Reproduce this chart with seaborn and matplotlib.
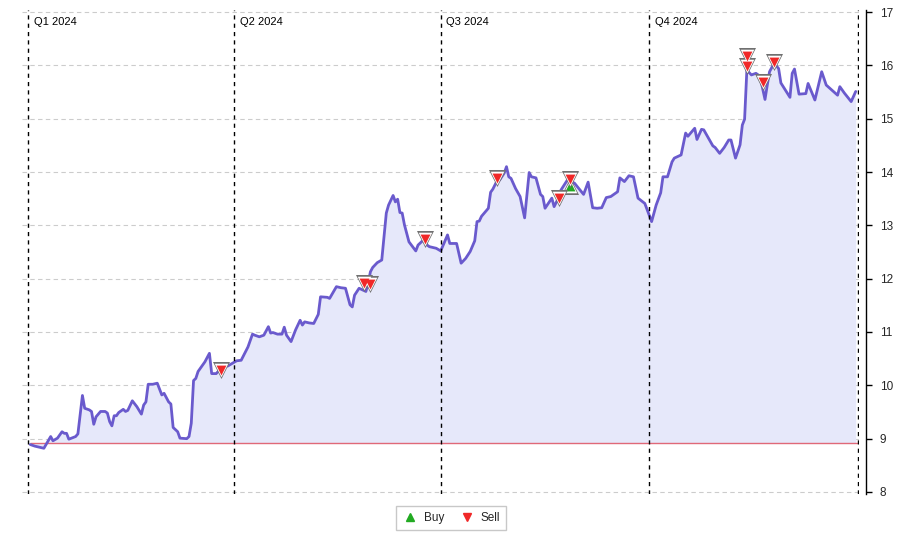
import numpy as np
import pandas as pd
import matplotlib
matplotlib.use("Agg")
import matplotlib.pyplot as plt
import seaborn as sns
from matplotlib.lines import Line2D

# ---------------- data ----------------
# days since 2024-01-01 and closing price
days = [1, 3, 7, 10, 11, 13, 15, 16, 17, 18, 21, 22, 24, 25, 27, 28, 29, 30, 32, 34,
        35, 36, 37, 38, 39, 40, 42, 43, 44, 46, 48, 50, 51, 52, 53, 55, 57, 59, 60, 62,
        63, 64, 66, 67, 70, 71, 72, 73, 74, 75, 77, 78, 80, 81, 83, 86, 88,
        90, 92, 94, 97, 99, 100, 102, 104, 106, 107, 108, 110, 112, 113, 114, 116, 118,
        120, 121, 122, 124, 126, 128, 129, 132, 133, 136, 138, 140, 142, 143, 144, 146,
        149, 150, 151, 152, 154, 156, 158, 159, 161, 162, 163, 164, 165, 166, 168, 171,
        172, 174, 175, 176, 177, 178, 180, 182,
        185, 186, 189, 191, 193, 195, 197, 198, 199, 200, 203, 204, 205, 207, 208, 210,
        211, 212, 213, 215, 217, 219, 221, 222, 224, 226, 227, 228, 231, 232, 234, 235,
        238, 241, 245, 247, 249, 251, 253, 255, 257, 260, 261, 263, 265, 267, 269, 272,
        275, 277, 279, 280, 282, 284, 285, 288, 290, 291, 294, 295, 297, 298, 302, 303,
        305, 307, 309, 310, 312, 314, 315, 316, 317, 319, 321, 322, 323, 325, 326, 327,
        329, 331, 332, 336, 337, 338, 340, 343, 344, 347, 350, 352, 357, 358, 360, 363, 365]
prices = [8.89, 8.86, 8.82, 9.04, 8.96, 9.01, 9.13, 9.10, 9.10, 8.99, 9.04, 9.09, 9.81, 9.57, 9.54, 9.51, 9.27, 9.41, 9.51, 9.51,
          9.48, 9.32, 9.24, 9.43, 9.43, 9.49, 9.55, 9.51, 9.53, 9.71, 9.60, 9.46, 9.63, 9.69, 10.02, 10.02, 10.04, 9.82, 9.85, 9.69,
          9.65, 9.21, 9.13, 9.01, 9.00, 9.04, 9.29, 10.09, 10.13, 10.26, 10.38, 10.44, 10.60, 10.22, 10.22, 10.36, 10.36,
          10.41, 10.46, 10.47, 10.72, 10.96, 10.94, 10.91, 10.94, 11.10, 10.98, 10.99, 10.96, 10.96, 11.09, 10.94, 10.82, 11.04,
          11.22, 11.13, 11.19, 11.17, 11.16, 11.33, 11.66, 11.65, 11.63, 11.85, 11.83, 11.82, 11.51, 11.47, 11.69, 11.82,
          11.76, 11.92, 12.13, 12.21, 12.30, 12.35, 13.23, 13.38, 13.56, 13.44, 13.49, 13.24, 13.23, 13.01, 12.69, 12.52,
          12.63, 12.71, 12.74, 12.63, 12.60, 12.59, 12.57, 12.52,
          12.82, 12.66, 12.66, 12.29, 12.38, 12.51, 12.71, 13.07, 13.08, 13.17, 13.32, 13.62, 13.68, 13.85, 13.85, 13.98,
          14.10, 13.91, 13.88, 13.69, 13.54, 13.14, 13.99, 13.91, 13.89, 13.58, 13.54, 13.32, 13.51, 13.35, 13.52, 13.66,
          13.86, 13.79, 13.58, 13.81, 13.33, 13.32, 13.33, 13.52, 13.54, 13.63, 13.89, 13.82, 13.93, 13.91, 13.51, 13.41,
          13.07, 13.38, 13.61, 13.91, 13.91, 14.19, 14.26, 14.32, 14.73, 14.67, 14.82, 14.61, 14.80, 14.79, 14.49, 14.46,
          14.35, 14.46, 14.60, 14.60, 14.26, 14.51, 14.88, 14.99, 15.91, 15.82, 15.85, 15.82, 15.75, 15.36, 15.63, 15.88,
          16.04, 15.94, 15.67, 15.40, 15.85, 15.93, 15.46, 15.47, 15.66, 15.35, 15.88, 15.63, 15.44, 15.60, 15.48, 15.32, 15.51]

sell_days = [85, 148, 151, 175, 207, 234, 239, 317, 317, 324, 329]
sell_prices = [10.28, 11.91, 11.90, 12.74, 13.88, 13.52, 13.86, 16.17, 15.99, 15.69, 16.07]
buy_days = [239]
buy_prices = [13.74]

baseline = 8.92
quarter_labels = ["Q1 2024", "Q2 2024", "Q3 2024", "Q4 2024"]
quarter_starts = ["2024-01-01", "2024-04-01", "2024-07-01", "2024-10-01"]
period_end = "2025-01-01"
y_ticks = [8, 9, 10, 11, 12, 13, 14, 15, 16, 17]

# ---------------- build frames ----------------
t0 = pd.Timestamp("2024-01-01")
df = pd.DataFrame({"date": t0 + pd.to_timedelta(days, unit="D"), "price": prices})
sells = pd.DataFrame({"date": t0 + pd.to_timedelta(sell_days, unit="D"), "price": sell_prices})
buys = pd.DataFrame({"date": t0 + pd.to_timedelta(buy_days, unit="D"), "price": buy_prices})

sns.set_theme(style="white")
plt.rcParams["font.family"] = ["Liberation Sans", "DejaVu Sans"]

W, H = 902, 536
fig = plt.figure(figsize=(W / 100, H / 100), dpi=100)
ax = fig.add_axes([22 / W, 1 - 494 / H, (859 - 22) / W, (494 - 10) / H])

# fill and line
ax.fill_between(df["date"], df["price"], baseline, color="#e6e8fa", linewidth=0, zorder=1)
sns.lineplot(data=df, x="date", y="price", ax=ax, color="#6a5acd", linewidth=2, zorder=3)
ax.hlines(baseline, df["date"].iloc[0], pd.Timestamp(period_end), color="#e06878", linewidth=1, zorder=2)

# quarter separators
for lab, qs in zip(quarter_labels, quarter_starts):
    d = pd.Timestamp(qs)
    ax.axvline(d, color="black", linewidth=1, linestyle=(0, (3, 3)), zorder=4)
    ax.annotate(lab, xy=(d, 1), xycoords=("data", "axes fraction"), xytext=(4, -5),
                textcoords="offset points", ha="left", va="top", fontsize=8, color="black")
ax.axvline(pd.Timestamp(period_end), color="black", linewidth=1, linestyle=(0, (3, 3)), zorder=4)

# markers: buys then sells (with gray/white outline)
sns.scatterplot(data=buys, x="date", y="price", ax=ax, marker="^", s=150, color="#707070",
                linewidth=0, zorder=5, legend=False)
sns.scatterplot(data=buys, x="date", y="price", ax=ax, marker="^", s=95, color="white",
                linewidth=0, zorder=5, legend=False)
sns.scatterplot(data=buys, x="date", y="price", ax=ax, marker="^", s=50, color="#22aa22",
                linewidth=0, zorder=5, legend=False)
sns.scatterplot(data=sells, x="date", y="price", ax=ax, marker="v", s=150, color="#707070",
                linewidth=0, zorder=6, legend=False)
sns.scatterplot(data=sells, x="date", y="price", ax=ax, marker="v", s=95, color="white",
                linewidth=0, zorder=6, legend=False)
sns.scatterplot(data=sells, x="date", y="price", ax=ax, marker="v", s=50, color="#f02828",
                linewidth=0, zorder=6, legend=False)

# axes styling
x_left = t0 - pd.Timedelta(days=2.65)
x_right = pd.Timestamp(period_end) + pd.Timedelta(days=0.45)
ax.set_xlim(x_left, x_right)
ax.set_ylim(8 - 2 / 53.33, 17 + 2 / 53.33)
ax.set_yticks(y_ticks)
ax.yaxis.tick_right()
ax.tick_params(axis="y", which="both", right=True, left=False, length=4, width=1,
               color="black", labelsize=8.5, pad=6, direction="out")
ax.set_xticks([])
ax.set_xlabel("")
ax.set_ylabel("")
ax.grid(axis="y", color="#cccccc", linestyle=(0, (4, 3)), linewidth=0.8)
ax.grid(axis="x", visible=False)
for s in ["left", "top", "bottom"]:
    ax.spines[s].set_visible(False)
ax.spines["right"].set_visible(True)
ax.spines["right"].set_color("black")
ax.spines["right"].set_linewidth(1)
ax.spines["right"].set_position(("outward", 5))
ax.set_facecolor("white")

# legend
handles = [Line2D([], [], marker="^", linestyle="none", color="#22aa22", markersize=6, label="Buy"),
           Line2D([], [], marker="v", linestyle="none", color="#f02828", markersize=6, label="Sell")]
leg = fig.legend(handles=handles, loc="center", bbox_to_anchor=(451 / W, 1 - 518 / H), ncol=2,
                 frameon=True, fancybox=False, edgecolor="#bbbbbb", fontsize=8.5,
                 handletextpad=0.4, columnspacing=1.2, borderpad=0.5, handlelength=1.5)
leg.get_frame().set_linewidth(1)

fig.savefig("out.png", dpi=100, facecolor="white")
